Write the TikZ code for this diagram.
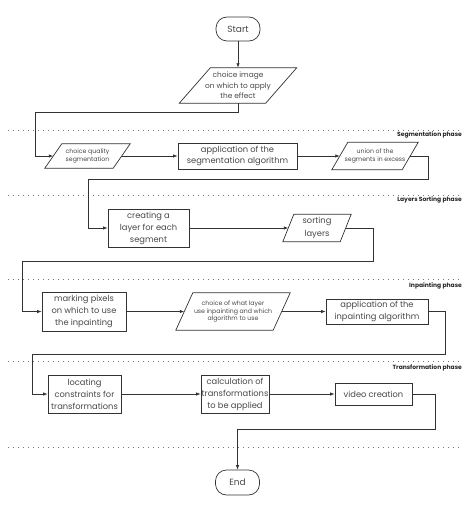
\documentclass[tikz,border=0pt]{standalone}
\usepackage{fontspec}
\setmainfont{Poppins}
\usetikzlibrary{arrows.meta,calc}
\begin{document}
\begin{tikzpicture}[x=1pt,y=-1pt,
  ln/.style={draw=black!80, line width=0.7pt},
  arr/.style={ln, -{Latex[length=4.5pt,width=3.4pt]}},
  box/.style={ln, rectangle, inner sep=0pt, align=center, text=black!72, font=\fontsize{8.3}{11.5}\selectfont},
  ptext/.style={rectangle, inner sep=0pt, align=center, text=black!72},
  term/.style={box, rounded corners=11pt, font=\fontsize{9}{11}\selectfont},
  sep/.style={draw=black!55, line width=0.8pt, dash pattern=on 0.8pt off 4.2pt},
  phase/.style={anchor=east, inner sep=0pt, font=\fontsize{6}{7}\selectfont\bfseries, text=black!85}]
\useasboundingbox (0,0) rectangle (474,516);
% phase separators
\draw[sep] (8,130) -- (462,130);
\draw[sep] (8,195) -- (462,195);
\draw[sep] (8,279) -- (462,279);
\draw[sep] (8,361) -- (462,361);
\draw[sep] (8,447) -- (462,447);
\node[phase] (p1) at (462,135) {Segmentation phase};
\node[phase] (p2) at (462,200) {Layers Sorting phase};
\node[phase] (p3) at (462,286) {Inpainting phase};
\node[phase] (p4) at (462,368) {Transformation phase};
% nodes
\node[term, minimum width=44, minimum height=24] (st) at (238,29) {Start};
\node[ptext, minimum width=117, minimum height=35, font=\fontsize{7.4}{10.5}\selectfont] (ci) at (238,85.5) {choice image\\on which to apply\\the effect};
\draw[ln] (ci.south west) -- ($(ci.north west)+(31,0)$) -- (ci.north east) -- ($(ci.south east)+(-31,0)$) -- cycle;

\node[ptext, minimum width=85, minimum height=24, font=\fontsize{6.2}{8}\selectfont] (cq) at (87.5,156) {choice quality\\segmentation};
\draw[ln] (cq.south west) -- ($(cq.north west)+(17,0)$) -- (cq.north east) -- ($(cq.south east)+(-17,0)$) -- cycle;

\node[box, minimum width=119, minimum height=26] (sa) at (237.5,156) {application of the\\segmentation algorithm};

\node[ptext, minimum width=86, minimum height=27, font=\fontsize{6.2}{8}\selectfont] (un) at (375,156) {union of the\\segments in excess};
\draw[ln] (un.south west) -- ($(un.north west)+(16,0)$) -- (un.north east) -- ($(un.south east)+(-16,0)$) -- cycle;

\node[box, minimum width=81, minimum height=38, font=\fontsize{8.3}{12}\selectfont] (cl) at (148.5,228) {creating a\\layer for each\\segment};

\node[ptext, minimum width=68, minimum height=27, font=\fontsize{8.3}{13}\selectfont] (so) at (317,228) {sorting\\layers};
\draw[ln] (so.south west) -- ($(so.north west)+(11,0)$) -- (so.north east) -- ($(so.south east)+(-11,0)$) -- cycle;

\node[box, minimum width=84, minimum height=39, font=\fontsize{8.3}{12}\selectfont] (mp) at (84,311.5) {marking pixels\\on which to use\\the inpainting};

\node[ptext, minimum width=114, minimum height=37, font=\fontsize{6.2}{7.8}\selectfont] (cw) at (233,311.5) {choice of what layer\\use inpainting and which\\algorithm to use};
\draw[ln] (cw.south west) -- ($(cw.north west)+(17,0)$) -- (cw.north east) -- ($(cw.south east)+(-17,0)$) -- cycle;

\node[box, minimum width=102, minimum height=25] (ia) at (377,311.5) {application of the\\inpainting algorithm};

\node[box, minimum width=73, minimum height=38, font=\fontsize{8.3}{12}\selectfont] (lc) at (84.5,394) {locating\\constraints for\\transformations};
\node[box, minimum width=68, minimum height=38, font=\fontsize{8.3}{12}\selectfont] (ca) at (235,394) {calculation of\\transformations\\to be applied};
\node[box, minimum width=77, minimum height=22] (vc) at (373.5,394) {video creation};

\node[term, minimum width=44, minimum height=25] (en) at (237.5,482.5) {End};

% routing points
\coordinate (r1) at (35,112);
\coordinate (r2) at (428,179);
\coordinate (r3) at (88,179);
\coordinate (r4) at (373,261);
\coordinate (r5) at (22,261);
\coordinate (r6) at (445,354);
\coordinate (r7) at (32,354);
\coordinate (r8) at (435,429);

% connectors
\draw[arr] (st) -- (ci);
\draw[arr] (ci.south) |- (r1) |- ($(cq.west)+(8.5,0)$);
\draw[arr] ($(cq.east)+(-8.5,0)$) -- (sa.west);
\draw[arr] (sa.east) -- ($(un.west)+(8,0)$);
\draw[arr] ($(un.east)+(-8,0)$) -| (r2) -- (r3) |- (cl.west);
\draw[arr] (cl.east) -- ($(so.west)+(5.5,0)$);
\draw[arr] ($(so.east)+(-5.5,0)$) -| (r4) -- (r5) |- (mp.west);
\draw[arr] (mp.east) -- ($(cw.west)+(8.5,0)$);
\draw[arr] ($(cw.east)+(-8.5,0)$) -- (ia.west);
\draw[arr] (ia.east) -| (r6) -- (r7) |- (lc.west);
\draw[arr] (lc) -- (ca);
\draw[arr] (ca) -- (vc);
\draw[arr] (vc.east) -| (r8) -| (en.north);
\end{tikzpicture}
\end{document}
